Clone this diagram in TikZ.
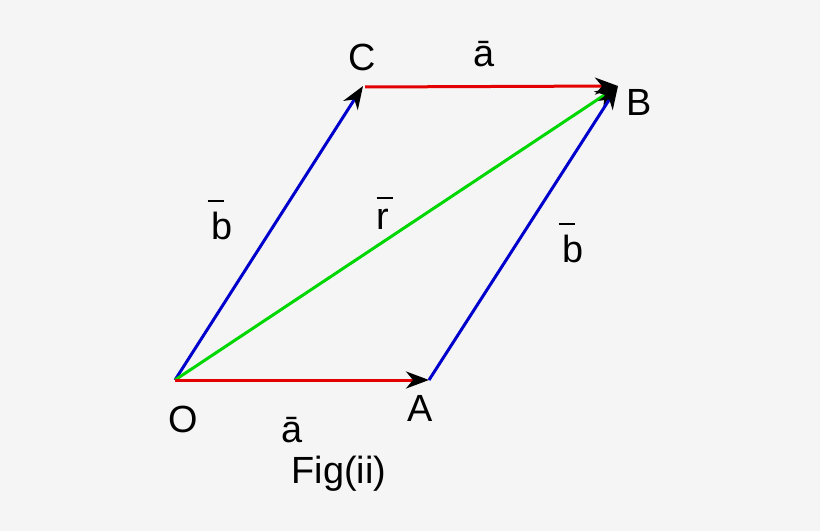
\documentclass[tikz,border=0pt]{standalone}
\usepackage{fontspec}
\setmainfont{Liberation Sans}
\usetikzlibrary{arrows.meta}
\definecolor{bg}{RGB}{245,245,245}
\definecolor{vred}{RGB}{228,0,0}
\definecolor{vblue}{RGB}{0,0,205}
\definecolor{vgreen}{RGB}{0,215,0}
% letter with a bar above: #1 letter, #2 shift of bar, #3 height of bar
\newcommand\ovb[3]{\makebox[0pt][l]{\hspace{#2}\raisebox{#3}{\rule{0.42em}{0.055em}}}#1}
\begin{document}
\begin{tikzpicture}[x=1bp,y=-1bp,
  vec/.style={line width=3bp,-{Stealth[length=23bp,width=17bp,inset=7bp,color=black,fill=black]}},
  lbl/.style={font=\fontsize{38}{40}\selectfont,anchor=base,inner sep=0pt}]
\fill[bg] (0,0) rectangle (820,531);
\useasboundingbox (0,0) rectangle (820,531);
\coordinate (O) at (175,380);
\coordinate (A) at (429,380);
\coordinate (B) at (618,86);
\coordinate (C) at (363,86);
\coordinate (Cs) at (365,87);
\draw[vec,vblue] (O) -- (C);
\draw[vec,vgreen] (O) -- (B);
\draw[vec,vred] (O) -- (A);
\draw[vec,vblue] (A) -- (B);
\draw[vec,vred] (Cs) -- (B);
\node[lbl] (lC) at (362,71) {C};
\node[lbl] (lB) at (639,116) {B};
\node[lbl] (lO) at (183,432) {O};
\node[lbl] (lA) at (420,421) {A};
\node[lbl] (la1) at (484,67) {ā};
\node[lbl] (la2) at (292,442) {ā};
\node[lbl] (lb1) at (222,240) {\ovb{b}{-0.1em}{1.0em}};
\node[lbl] (lb2) at (573,263) {\ovb{b}{-0.1em}{1.0em}};
\node[lbl] (lr) at (383,230) {\ovb{r}{0em}{0.82em}};
\node[lbl] (fig) at (339,483) {Fig(ii)};
\end{tikzpicture}
\end{document}
